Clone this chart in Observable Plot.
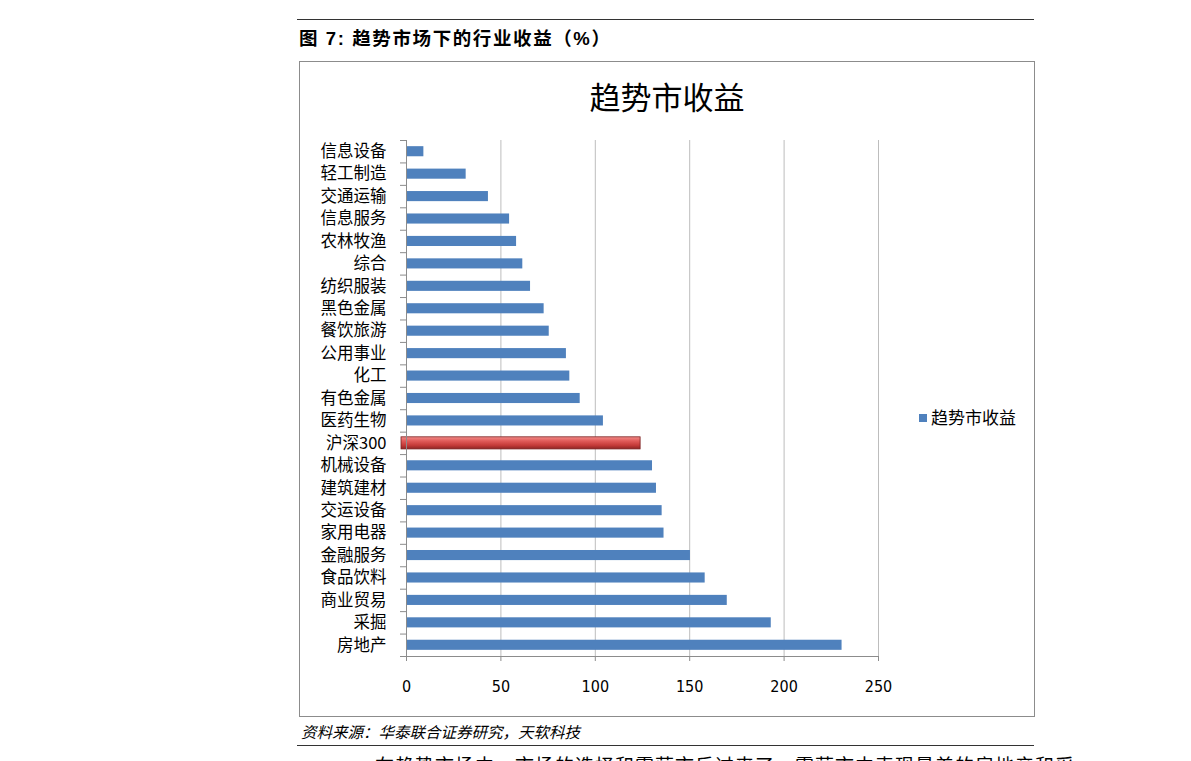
<!DOCTYPE html>
<html><head><meta charset="utf-8">
<script src="https://cdn.jsdelivr.net/npm/d3@7"></script>
<script src="https://cdn.jsdelivr.net/npm/@observablehq/plot@0.6"></script>
<style>
html,body{margin:0;padding:0;background:#fff;width:1191px;height:761px;overflow:hidden;}
#page{position:relative;width:1191px;height:761px;font-family:"Liberation Sans","Noto Sans CJK SC",sans-serif;}
.abs{position:absolute;}
#hdr{left:299px;top:24px;font-size:18.5px;font-weight:bold;color:#000;white-space:nowrap;letter-spacing:1.6px;}
#topline{left:297px;top:19px;width:737px;height:0;border-top:1.5px solid #333;}
#frame{left:299px;top:61px;width:734px;height:654px;border:1px solid #8c8c8c;}
#ctitle{left:299px;top:73px;width:736px;text-align:center;font-size:31px;font-family:"Noto Sans CJK SC",sans-serif;color:#000;}
#legend{left:919px;top:404px;font-size:17px;font-family:"Noto Sans CJK SC",sans-serif;white-space:nowrap;}
#legend span.sw{display:inline-block;width:8px;height:8px;background:#4F81BD;margin-right:4px;vertical-align:2px;}
#src{left:301px;top:720px;font-size:15.5px;font-style:italic;font-family:"Noto Sans CJK SC",serif;color:#000;white-space:nowrap;}
#botline{left:297px;top:745px;width:737px;border-top:1.5px solid #333;}
#body{left:375px;top:751px;font-size:19px;font-family:"Noto Sans CJK SC",serif;white-space:nowrap;letter-spacing:1px;}
#plot{left:300px;top:62px;}
</style></head>
<body><div id="page">
<div class="abs" id="topline"></div>
<div class="abs" id="hdr">图 7: 趋势市场下的行业收益（%）</div>
<div class="abs" id="frame"></div>
<div class="abs" id="ctitle">趋势市收益</div>
<div class="abs" id="plot"></div>
<div class="abs" id="legend"><span class="sw"></span>趋势市收益</div>
<div class="abs" id="src">资料来源：华泰联合证券研究，天软科技</div>
<div class="abs" id="botline"></div>
<div class="abs" id="body">在趋势市场中，市场的选择和震荡市反过来了，震荡市中表现最差的房地产和采</div>
</div>
<script>
const categories = ["信息设备","轻工制造","交通运输","信息服务","农林牧渔","综合","纺织服装","黑色金属","餐饮旅游","公用事业","化工","有色金属","医药生物","沪深300","机械设备","建筑建材","交运设备","家用电器","金融服务","食品饮料","商业贸易","采掘","房地产"];
const values = [9.2,31.6,43.4,54.6,58.3,61.6,65.7,72.9,75.6,84.7,86.5,92.0,104.3,124.0,130.3,132.4,135.4,136.4,150.4,158.2,169.9,193.2,230.7];
const highlight = "沪深300";
const xTicks = [0,50,100,150,200,250];

const data = categories.map((c,i)=>({name:c, value:values[i]}));
const W = 734, H = 654, mT = 78, mB = 60, mL = 106, mR = 156;
const step = (H - mT - mB) / categories.length;

const plot = Plot.plot({
  width: W, height: H,
  marginLeft: mL, marginRight: mR, marginTop: mT, marginBottom: mB,
  style: {fontFamily: '"Noto Sans CJK SC", sans-serif', background: "transparent", overflow: "visible"},
  x: {domain: [0, 250], ticks: xTicks, label: null},
  y: {domain: categories, paddingInner: 0.55, paddingOuter: 0.275, align: 0.5, round: false, label: null},
  marks: [
    Plot.ruleX(xTicks.slice(1), {stroke: "#bdbdbd", strokeWidth: 1}),
    Plot.barX(data.filter(d=>d.name!==highlight), {x: "value", y: "name", fill: "#4F81BD"}),
    Plot.barX(data.filter(d=>d.name===highlight), {x: "value", y: "name", fill: "url(#redgrad)", stroke: "#7a1f1f", strokeWidth: 0.8, insetLeft: -5, insetTop: -1, insetBottom: -1}),
    Plot.ruleX([0], {stroke: "#8c8c8c", strokeWidth: 1}),
    Plot.axisX({ticks: xTicks, tickSize: 5, tickPadding: 19, fontSize: 16, stroke: "#8c8c8c", color: "#000", label: null, tickFormat: d=>String(d), fontFamily: '"DejaVu Sans Condensed","Liberation Sans",sans-serif'}),
    Plot.axisY({tickSize: 0, tickPadding: 20, fontSize: 16.5, color: "#000", label: null}),
    Plot.axisY({text: null, tickSize: 6, dy: step/2, stroke: "#8c8c8c", label: null}),
    Plot.axisY([categories[0]], {text: null, tickSize: 6, dy: -step/2, stroke: "#8c8c8c", label: null})
  ]
});
const svg = d3.select(plot);
svg.append("line").attr("x1",mL).attr("x2",W-mR).attr("y1",H-mB+0.5).attr("y2",H-mB+0.5).attr("stroke","#8c8c8c");
const defs = svg.insert("defs", ":first-child");
const g = defs.append("linearGradient").attr("id","redgrad").attr("x1",0).attr("y1",0).attr("x2",0).attr("y2",1);
g.append("stop").attr("offset","0%").attr("stop-color","#f28c8a");
g.append("stop").attr("offset","35%").attr("stop-color","#e05a58");
g.append("stop").attr("offset","70%").attr("stop-color","#c43b39");
g.append("stop").attr("offset","100%").attr("stop-color","#8e2524");
document.getElementById("plot").appendChild(plot);
</script>
</body></html>
